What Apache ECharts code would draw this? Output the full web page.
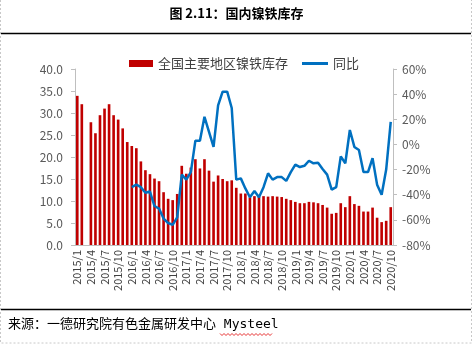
<!DOCTYPE html>
<html><head><meta charset="utf-8">
<script src="https://cdn.jsdelivr.net/npm/echarts@6/dist/echarts.min.js"></script>
<style>html,body{margin:0;padding:0;background:#fff;}#c{width:473px;height:346px;}</style>
</head><body><div id="c"></div>
<script>
const categories = ["2015/1","2015/2","2015/3","2015/4","2015/5","2015/6","2015/7","2015/8","2015/9","2015/10","2015/11","2015/12",
"2016/1","2016/2","2016/3","2016/4","2016/5","2016/6","2016/7","2016/8","2016/9","2016/10","2016/11","2016/12",
"2017/1","2017/2","2017/3","2017/4","2017/5","2017/6","2017/7","2017/8","2017/9","2017/10","2017/11","2017/12",
"2018/1","2018/2","2018/3","2018/4","2018/5","2018/6","2018/7","2018/8","2018/9","2018/10","2018/11","2018/12",
"2019/1","2019/2","2019/3","2019/4","2019/5","2019/6","2019/7","2019/8","2019/9","2019/10","2019/11","2019/12",
"2020/1","2020/2","2020/3","2020/4","2020/5","2020/6","2020/7","2020/8","2020/9","2020/10"];
const inventory = [33.9,32.0,null,27.9,25.4,29.5,31.0,32.0,29.5,28.5,26.5,23.4,
22.5,22.0,19.0,17.0,16.1,15.1,14.5,12.0,10.5,10.2,11.6,18.0,
16.2,17.6,19.5,17.4,19.5,16.9,14.4,15.8,15.0,14.5,14.7,13.0,
11.7,11.7,10.8,11.1,10.9,11.1,11.0,11.1,11.0,10.9,10.5,10.2,
9.8,9.5,9.5,9.8,9.7,9.5,9.1,8.5,7.1,7.3,9.5,8.6,
11.1,9.3,8.9,7.6,7.6,8.5,6.2,5.2,5.5,8.6];
const yoy = [null,null,null,null,null,null,null,null,null,null,null,null,
-34,-32,-34,-38.5,-37.5,-49,-51,-59,-62.5,-64,-58,-24,
-28,-22,3,3,22,10,-2,31,42,42,29,-28,
-27,-35,-42,-37,-42,-34,-23,-28,-26,-26,-29,-22,
-16,-18,-17,-13,-15,-14.5,-19.5,-24,-36,-34,-9.5,-15,
11.5,-2,-4.5,-22,-22,-11,-32,-40,-20,18];
const leftTicks = {min:0,max:40,interval:5};
const rightTicks = {min:-80,max:60,interval:20};

const chart = echarts.init(document.getElementById('c'));
const wave = [];
for (let x = 220; x <= 272; x += 2) wave.push([x, (x/2)%2===0 ? 333.5 : 335.5]);
chart.setOption({
  animation:false,
  textStyle:{fontFamily:"'Noto Sans CJK SC', sans-serif"},
  graphic:[
    {type:'rect',shape:{x:0.5,y:-2,width:471,height:345},style:{fill:'none',stroke:'#c8c8c8',lineWidth:1,lineDash:[2,2]}},
    {type:'text',left:'center',top:7,style:{text:'图 2.11：国内镍铁库存',font:"bold 13px 'Noto Sans CJK SC'",fill:'#000'}},
    {type:'line',shape:{x1:1,y1:33.5,x2:471,y2:33.5},style:{stroke:'#000',lineWidth:1.3}},
    {type:'line',shape:{x1:1,y1:309.5,x2:471,y2:309.5},style:{stroke:'#000',lineWidth:1.3}},
    {type:'text',left:8,top:318,style:{text:'来源：一德研究院有色金属研发中心 Mysteel',font:"13px 'DejaVu Sans Mono','Noto Sans CJK SC'",fill:'#000'}},
    {type:'polyline',shape:{points:wave},style:{stroke:'#e00000',lineWidth:0.8,fill:'none'}}
  ],
  legend:[
    {left:124,top:52,itemWidth:24,itemHeight:7,
     textStyle:{fontSize:13,color:'#404040'},
     data:[{name:'全国主要地区镍铁库存',icon:'rect'}]},
    {left:297,top:52,itemWidth:26,itemHeight:3,
     textStyle:{fontSize:13,color:'#404040'},
     data:[{name:'同比',icon:'rect'}]}
  ],
  grid:{left:75,right:80,top:69,bottom:101},
  xAxis:{
    type:'category',data:categories,boundaryGap:true,
    axisLine:{lineStyle:{color:'#bfbfbf'}},
    axisTick:{interval:2,length:4,lineStyle:{color:'#bfbfbf'}},
    axisLabel:{interval:2,rotate:90,fontSize:11,color:'#404040',margin:5}
  },
  yAxis:[
    {type:'value',min:leftTicks.min,max:leftTicks.max,interval:leftTicks.interval,
     axisLine:{show:true,lineStyle:{color:'#bfbfbf'}},axisTick:{show:true,length:4,lineStyle:{color:'#bfbfbf'}},
     splitLine:{show:false},
     axisLabel:{formatter:v=>v.toFixed(1),fontSize:12,color:'#595959',margin:12}},
    {type:'value',min:rightTicks.min,max:rightTicks.max,interval:rightTicks.interval,position:'right',
     axisLine:{show:true,lineStyle:{color:'#bfbfbf'}},axisTick:{show:true,length:4,lineStyle:{color:'#bfbfbf'}},
     splitLine:{show:false},
     axisLabel:{formatter:v=>v+'%',fontSize:12,color:'#595959',margin:9}}
  ],
  series:[
    {name:'全国主要地区镍铁库存',type:'bar',data:inventory,barWidth:'58%',itemStyle:{color:'#C00000'},yAxisIndex:0},
    {name:'同比',type:'line',data:yoy,yAxisIndex:1,symbol:'none',lineStyle:{color:'#0070C0',width:2.5},itemStyle:{color:'#0070C0'},connectNulls:false}
  ]
});
</script></body></html>
